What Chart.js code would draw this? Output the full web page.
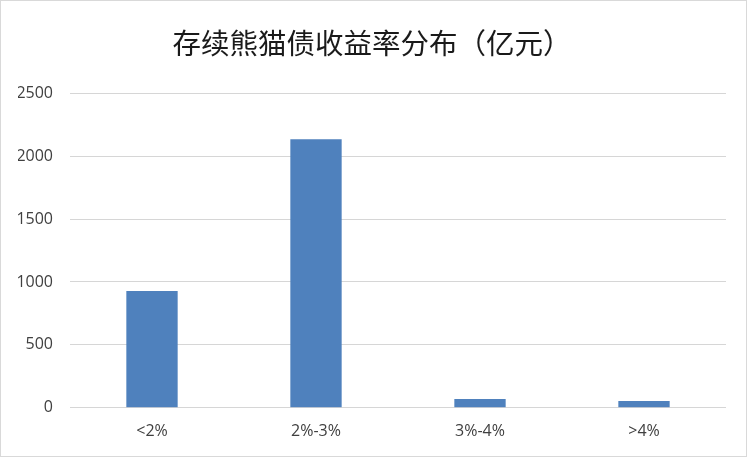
<!DOCTYPE html>
<html>
<head>
<meta charset="utf-8">
<script src="https://cdn.jsdelivr.net/npm/chart.js@4.4.0/dist/chart.umd.min.js"></script>
<style>
  html, body { margin: 0; padding: 0; background: #ffffff; }
  #wrap { position: relative; width: 747px; height: 457px; }
  canvas { display: block; }
</style>
</head>
<body>
<div id="wrap"><canvas id="c" width="747" height="457"></canvas></div>
<script>
const titleText = '存续熊猫债收益率分布（亿元）';
const categories = ['<2%', '2%-3%', '3%-4%', '>4%'];
const values = [928, 2135, 70, 54];
const yTicks = [0, 500, 1000, 1500, 2000, 2500];

const borderPlugin = {
  id: 'outerBorder',
  afterDraw(chart) {
    const ctx = chart.ctx;
    ctx.save();
    ctx.strokeStyle = '#d9d9d9';
    ctx.lineWidth = 1;
    ctx.strokeRect(0.5, 0.5, chart.width - 1, chart.height - 1);
    ctx.restore();
  }
};

new Chart(document.getElementById('c'), {
  type: 'bar',
  data: {
    labels: categories,
    datasets: [{
      data: values,
      backgroundColor: '#4F81BD',
      borderWidth: 0,
      categoryPercentage: 1.0,
      barPercentage: 0.313
    }]
  },
  options: {
    responsive: false,
    devicePixelRatio: 1,
    animation: false,
    layout: { padding: { left: 18, right: 21, top: 0, bottom: 0 } },
    plugins: {
      legend: { display: false },
      tooltip: { enabled: false },
      title: {
        display: true,
        text: titleText,
        color: '#1a1a1a',
        font: { family: '"Noto Sans CJK SC", sans-serif', size: 28.5, weight: 'normal', lineHeight: 1.2 },
        padding: { top: 26, bottom: 33.2 }
      }
    },
    scales: {
      x: {
        grid: { display: false, drawTicks: false },
        border: { display: false },
        ticks: {
          color: '#404040',
          font: { family: '"Open Sans", sans-serif', size: 16, lineHeight: 1.2 },
          padding: 14
        },
        afterFit(s) { s.height = 49.3; }
      },
      y: {
        min: 0,
        max: 2500,
        afterBuildTicks(s) { s.ticks = yTicks.map(v => ({ value: v })); },
        grid: { color: '#d6d6d6', lineWidth: 1, drawTicks: false },
        border: { display: false },
        ticks: {
          color: '#404040',
          font: { family: '"Open Sans", sans-serif', size: 16, lineHeight: 1.2 },
          padding: 17,
          callback: (v) => String(v)
        },
        afterFit(s) { s.width = 52; }
      }
    }
  },
  plugins: [borderPlugin]
});
</script>
</body>
</html>
